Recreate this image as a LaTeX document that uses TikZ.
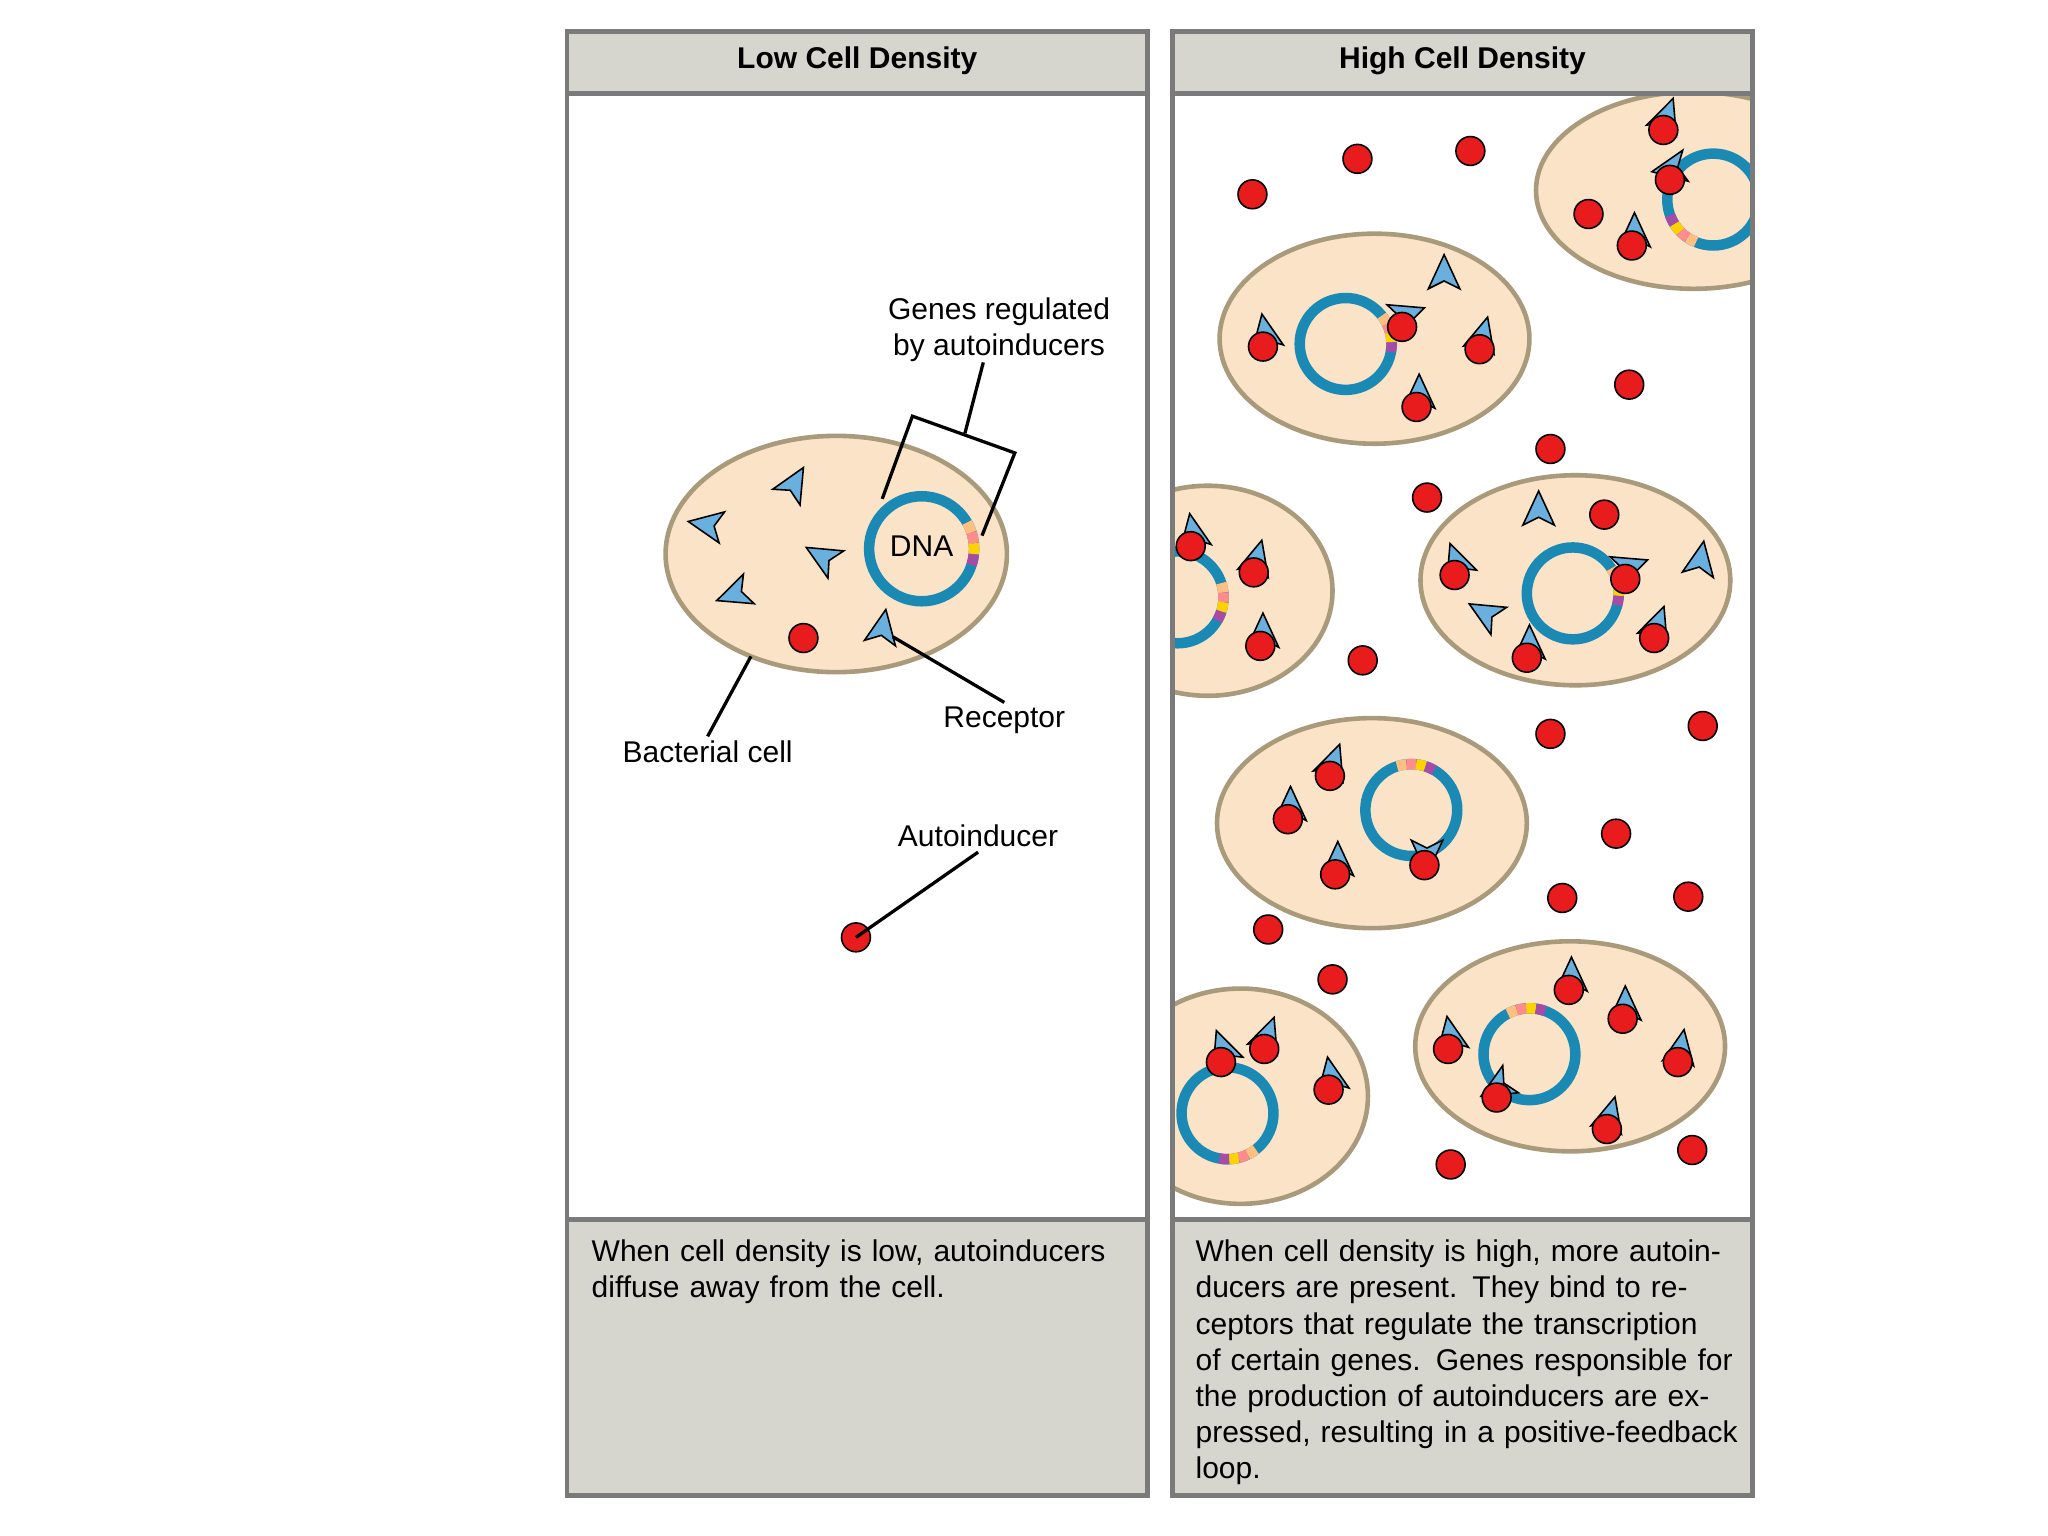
\documentclass[tikz,border=0pt]{standalone}
\usepackage{fontspec}
\setmainfont{Liberation Sans}
\begin{document}
\definecolor{cellfill}{HTML}{FBE3C8}
\definecolor{celledge}{HTML}{A89A7A}
\definecolor{dnablue}{HTML}{1A8AB5}
\definecolor{recblue}{HTML}{6AB0DE}
\definecolor{aired}{HTML}{E81C1C}
\definecolor{headgray}{HTML}{D6D6CE}
\definecolor{framegray}{HTML}{7A7A7A}
\tikzset{
  cell/.style={draw=celledge, line width=0.035cm, fill=cellfill},
  frame/.style={draw=framegray, line width=0.035cm},
  lbl/.style={font=\fontsize{6.5}{7.8}\selectfont, align=center, inner sep=0pt},
  captext/.style={font=\fontsize{6.5}{7.8}\selectfont, align=left, anchor=north west, inner sep=0pt, text width=4.15cm},
  ptr/.style={line width=0.025cm},
  pics/rec/.style={code={\draw[fill=recblue, line width=0.012cm, rotate=#1]
      (0,-16) -- (-12,10) -- (0,4) -- (12,10) -- cycle;}},
  pics/ai/.style={code={\draw[fill=aired, line width=0.012cm] (0,0) circle (11);}},
  pics/bound/.style={code={\pic at (2,-5) {rec=#1}; \pic at (0,4) {ai};}}
}
% ring with four gene bands starting at angle #4
\newcommand{\dnaring}[4]{%
  \draw[dnablue, line width=0.08cm] (#1,#2) circle (#3);
  \foreach \c [count=\k] in {orange!50, red!45, yellow!70!orange, violet!70}
    \draw[\c, line width=0.08cm] ([shift={(#4+\k*12:#3)}]#1,#2) arc (#4+\k*12:#4+\k*12+12:#3);
}
\begin{tikzpicture}[x=0.01cm, y=-0.01cm]
\useasboundingbox (0,0) rectangle (1560,1170);
% panels
\foreach \px/\title [count=\i] in {432/Low Cell Density, 893/High Cell Density} {
  \fill[headgray] (\px,24) rectangle ++(442,47);
  \fill[headgray] (\px,929) rectangle ++(442,210);
  \draw[frame] (\px,24) rectangle ++(442,1115);
  \draw[frame] (\px,71) -- ++(442,0);
  \draw[frame] (\px,929) -- ++(442,0);
  \node[lbl, font=\fontsize{6.5}{7.8}\selectfont\bfseries] (head\i) at (\px+221,46) {\title};
}
% low density cell
\draw[cell] (637,422) ellipse [x radius=130, y radius=90];
\dnaring{702}{418}{40}{-42}
\node[lbl] (dna) at (702,416) {DNA};
\foreach \x/\y/\r in {540/400/80, 604/370/-30, 628/425/60, 561/452/110, 672/480/-10}
  \pic at (\x,\y) {rec=\r};
\pic at (612,486) {ai};
\pic at (652,714) {ai};
\coordinate (freeai) at (652,714);
\coordinate (recpt) at (680,485);
\coordinate (cellpt) at (572,500);
\coordinate (brk) at (735,330);
\draw[ptr] (672,380) -- (695,317) -- (773,345) -- (748,408);
\node[lbl] (genes) at (761,251) {Genes regulated\\by autoinducers};
\node[lbl] (bact) at (539,573) {Bacterial cell};
\node[lbl] (recl) at (765,549) {Receptor};
\node[lbl] (ail) at (745,637) {Autoinducer};
\draw[ptr] ([xshift=-0.12cm]genes.south) -- (brk);
\draw[ptr] ([yshift=0.03cm]bact.north) -- (cellpt);
\draw[ptr] ([yshift=0.03cm]recl.north) -- (recpt);
\draw[ptr] ([yshift=-0.03cm]ail.south) -- (freeai);
% high density
\begin{scope}
\clip (893,71) rectangle (1335,929);
\foreach \cx/\cy/\rx/\ry/\dx/\dy/\a in {1290/145/120/75/1305/152/100, 1047/258/118/80/1025/262/-50,
    920/450/95/80/897/455/-30, 1200/442/118/80/1198/452/-45, 1045/627/118/80/1075/617/-120,
    945/835/97/82/935/848/40, 1196/797/118/80/1165/803/-130} {
  \draw[cell] (\cx,\cy) ellipse [x radius=\rx, y radius=\ry];
  \dnaring{\dx}{\dy}{35}{\a}
}
\foreach \x/\y/\r in {962/260/10, 1079/306/0, 1127/262/-15, 1068/245/-70, 1267/95/-20,
    1272/133/100, 1243/183/0, 907/412/10, 955/432/-15, 960/488/0, 1108/434/20, 1163/497/0,
    1238/437/-70, 1260/482/-20, 981/620/0, 1013/587/-20, 1017/662/0, 1085/655/180,
    930/805/20, 963/795/-20, 1012/826/10, 1103/795/10, 1140/832/120, 1195/750/0,
    1236/772/0, 1278/805/-10, 1224/856/-15}
  \pic at (\x,\y) {bound=\r};
\foreach \x/\y/\r in {1100/210/0, 1172/390/0, 1133/468/60, 1295/428/-10}
  \pic at (\x,\y) {rec=\r};
\foreach \x/\y in {954/148, 1034/121, 1120/115, 1210/163, 1241/293, 1181/342, 1087/379,
    1222/392, 1038/503, 1181/559, 1297/553, 1231/635, 1190/684, 1286/683, 966/708,
    1015/746, 1105/887, 1289/876}
  \pic at (\x,\y) {ai};
\end{scope}
\draw[frame] (893,71) rectangle (1335,929);
% captions
\node[captext] (capl) at (450,944) {When cell density is low, autoinducers diffuse away from the cell.};
\node[captext] (caph) at (910,944) {When cell density is high, more autoinducers are present. They bind to receptors that regulate the transcription of certain genes. Genes responsible for the production of autoinducers are expressed, resulting in a positive-feedback loop.};
\end{tikzpicture}
\end{document}
